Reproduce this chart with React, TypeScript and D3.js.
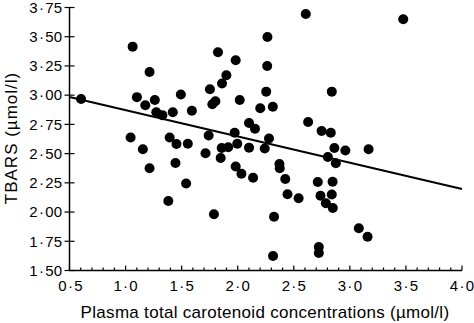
import React from "react";
import * as d3 from "d3";

const xVals = [0.603,1.063,1.214,1.101,1.176,1.261,1.274,1.328,1.421,1.493,1.591,1.045,1.154,1.214,1.393,1.454,1.555,1.445,1.540,1.381,1.713,1.741,1.752,1.824,1.982,1.899,1.860,1.774,1.801,2.018,2.265,2.263,2.254,2.201,2.313,2.607,2.101,2.154,2.628,2.748,2.830,2.839,3.476,1.973,1.996,1.857,1.915,2.101,2.241,2.279,1.848,1.982,2.033,2.137,2.372,2.375,2.424,2.444,2.543,2.714,2.846,2.738,2.839,2.786,2.848,2.804,2.875,2.862,2.960,3.167,3.080,3.158,1.788,2.324,2.315,2.723,2.723];
const yVals = [2.967,3.415,3.198,2.983,2.913,2.959,2.854,2.829,2.854,3.006,2.867,2.638,2.537,2.374,2.638,2.582,2.584,2.420,2.244,2.095,2.503,2.655,3.051,3.367,3.298,3.170,3.100,2.922,2.948,2.959,3.498,3.250,3.030,2.888,2.901,3.694,2.762,2.713,2.771,2.694,2.679,3.030,3.649,2.679,2.584,2.548,2.554,2.551,2.544,2.629,2.463,2.390,2.328,2.294,2.411,2.374,2.283,2.153,2.118,2.257,2.259,2.140,2.150,2.075,2.035,2.471,2.418,2.548,2.527,2.537,1.861,1.789,1.981,1.960,1.624,1.701,1.650];
const regX = [0.5, 4.0];
const regY = [2.984, 2.197];
const xMajorTicks = [0.5, 1.0, 1.5, 2.0, 2.5, 3.0, 3.5, 4.0];
const xMinorTicks = d3.range(5, 41).map((v) => v / 10);
const yTicks = [1.5, 1.75, 2.0, 2.25, 2.5, 2.75, 3.0, 3.25, 3.5, 3.75];
const xTitle = "Plasma total carotenoid concentrations (\u00b5mol/l)";
const yTitle = "TBARS (\u00b5mol/l)";

function DotNum({ v, d }: { v: number; d: number }) {
  const [a, b] = v.toFixed(d).split(".");
  return (
    <>
      {a}
      <tspan dx={1.3}>{"\u00b7"}</tspan>
      <tspan dx={1.3}>{b}</tspan>
    </>
  );
}

export default function App() {
  const W = 474, H = 323;
  const x = d3.scaleLinear().domain([0.5, 4.0]).range([69.5, 462]);
  const y = d3.scaleLinear().domain([1.5, 3.75]).range([270.5, 7.5]);
  const line = d3.line<number>().x((d) => x(regX[d])).y((d) => y(regY[d]));
  const font = "'Liberation Sans', Arial, Helvetica, sans-serif";
  return (
    <svg width={W} height={H} style={{ position: "absolute", left: 0, top: 0, background: "#fff" }} fontFamily={font}>
      <line x1={x(0.5)} x2={x(0.5)} y1={y(3.75)} y2={y(1.5)} stroke="#000" strokeWidth={1.5} />
      <line x1={x(0.5)} x2={x(4.0)} y1={y(1.5)} y2={y(1.5)} stroke="#000" strokeWidth={1.5} />
      {xMinorTicks.map((t) => {
        const major = Math.abs(t * 2 - Math.round(t * 2)) < 1e-6;
        return <line key={"xm" + t} x1={x(t)} x2={x(t)} y1={y(1.5)} y2={y(1.5) - (major ? 5 : 3)} stroke="#000" strokeWidth={1.2} />;
      })}
      {xMajorTicks.map((t) => (
        <text key={"xl" + t} x={x(t) + (t === 0.5 ? 1 : 0)} y={291} textAnchor="middle" fontSize={15}>
          <DotNum v={t} d={1} />
        </text>
      ))}
      {yTicks.map((t) => (
        <g key={"y" + t}>
          <line x1={x(0.5) - 5} x2={x(0.5) + 5} y1={y(t)} y2={y(t)} stroke="#000" strokeWidth={1.2} />
          <text x={62} y={y(t) + 5.3} textAnchor="end" fontSize={15}>
            <DotNum v={t} d={2} />
          </text>
        </g>
      ))}
      <text x={265} y={318} textAnchor="middle" fontSize={17} letterSpacing={0.3}>{xTitle}</text>
      <text transform={`translate(17,${138}) rotate(-90)`} textAnchor="middle" fontSize={17} letterSpacing={1.0}>{yTitle}</text>
      <path d={line([0, 1]) || ""} stroke="#000" strokeWidth={2} fill="none" />
      {xVals.map((v, i) => (
        <circle key={i} cx={x(v)} cy={y(yVals[i])} r={5} fill="#000" />
      ))}
    </svg>
  );
}
